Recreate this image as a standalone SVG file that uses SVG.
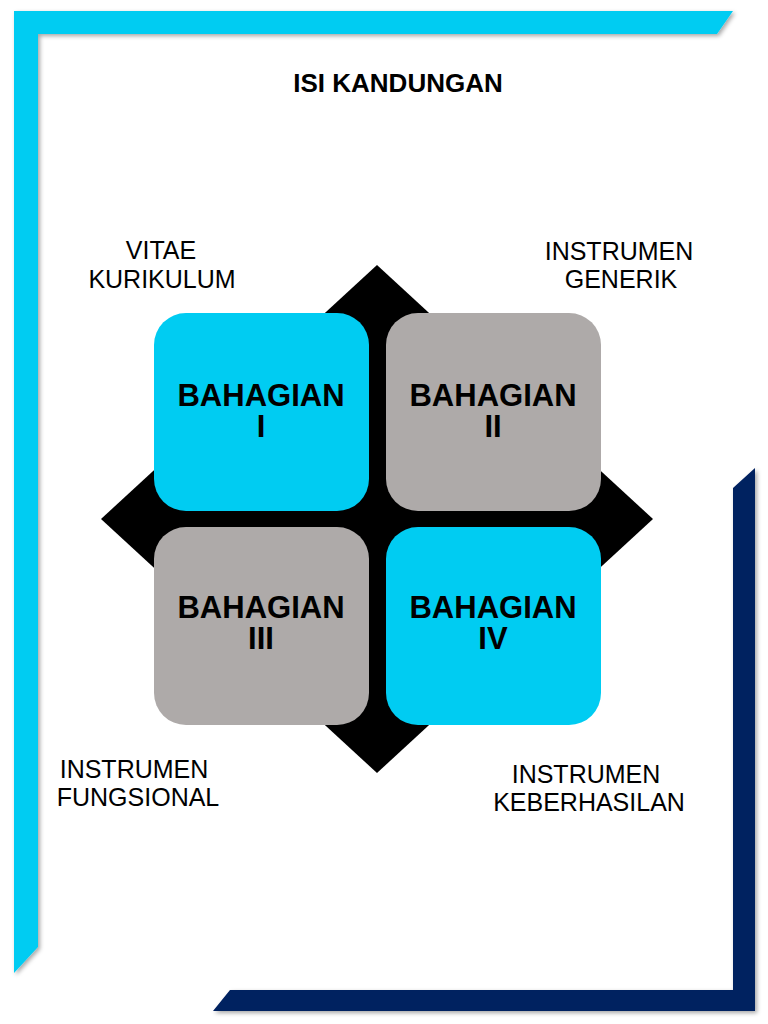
<svg xmlns="http://www.w3.org/2000/svg" width="768" height="1024" viewBox="0 0 768 1024">
  <defs>
    <filter id="sh" x="-10%" y="-10%" width="120%" height="120%">
      <feDropShadow dx="2" dy="2" stdDeviation="2" flood-color="#000" flood-opacity="0.35"/>
    </filter>
  </defs>
  <style>
    .title { font-family: "Liberation Sans", Arial, sans-serif; font-weight: bold; font-size: 26px; fill: #000; text-anchor: middle; }
    .box { font-family: "Liberation Sans", Arial, sans-serif; font-weight: bold; font-size: 31px; fill: #000; text-anchor: middle; }
    .lbl { font-family: "Liberation Sans", Arial, sans-serif; font-size: 25px; fill: #000; text-anchor: middle; }
    .cyan { fill: #00CCF2; }
    .gray { fill: #AEAAA9; }
  </style>
  <rect width="768" height="1024" fill="#fff"/>
  <g id="frame">
    <polygon points="14,11 733,11 717,34 38,34 38,947 14,973" fill="#00CCF2" filter="url(#sh)"/>
    <polygon points="755,468 755,1011 213,1011 230,990 733,990 733,488" fill="#002060" filter="url(#sh)"/>
  </g>
  <g id="title"><text class="title" x="398" y="92">ISI KANDUNGAN</text></g>
  <g id="diamond"><polygon points="377,265 653,519 377,773 101,519" fill="#000"/></g>
  <g id="bahagian1">
    <rect class="cyan" x="154" y="313" width="215" height="198" rx="32"/>
    <text class="box" x="261" y="406">BAHAGIAN</text>
    <text class="box" x="261" y="437">I</text>
  </g>
  <g id="bahagian2">
    <rect class="gray" x="386" y="313" width="215" height="198" rx="32"/>
    <text class="box" x="493" y="406">BAHAGIAN</text>
    <text class="box" x="493" y="437">II</text>
  </g>
  <g id="bahagian3">
    <rect class="gray" x="154" y="527" width="215" height="198" rx="32"/>
    <text class="box" x="261" y="618">BAHAGIAN</text>
    <text class="box" x="261" y="649">III</text>
  </g>
  <g id="bahagian4">
    <rect class="cyan" x="386" y="527" width="215" height="198" rx="32"/>
    <text class="box" x="493" y="618">BAHAGIAN</text>
    <text class="box" x="493" y="649">IV</text>
  </g>
  <g id="label1">
    <text class="lbl" x="161" y="259">VITAE</text>
    <text class="lbl" x="162" y="288">KURIKULUM</text>
  </g>
  <g id="label2">
    <text class="lbl" x="619" y="260">INSTRUMEN</text>
    <text class="lbl" x="621" y="288">GENERIK</text>
  </g>
  <g id="label3">
    <text class="lbl" x="134" y="778">INSTRUMEN</text>
    <text class="lbl" x="138" y="806">FUNGSIONAL</text>
  </g>
  <g id="label4">
    <text class="lbl" x="586" y="783">INSTRUMEN</text>
    <text class="lbl" x="589" y="811">KEBERHASILAN</text>
  </g>
  <g id="connectors"></g>
</svg>
